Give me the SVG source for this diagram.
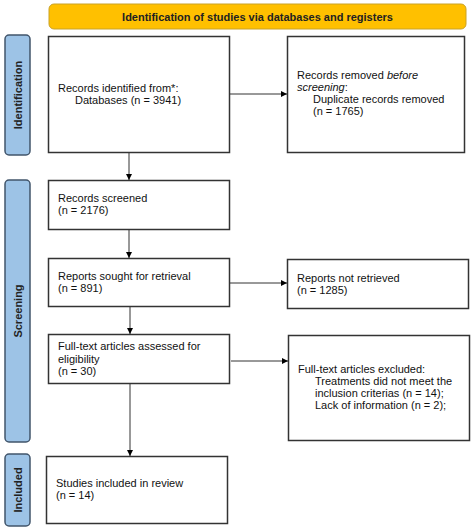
<svg xmlns="http://www.w3.org/2000/svg" width="474" height="530" viewBox="0 0 474 530">
<defs>
<marker id="ah" viewBox="0 0 10 10" refX="10" refY="5" markerWidth="6" markerHeight="6" markerUnits="userSpaceOnUse" orient="auto">
<path d="M0,0 L10,5 L0,10 z" fill="#000"/>
</marker>
</defs>
<style>
.box{fill:#fff;stroke:#333;stroke-width:1.5}
.side{fill:#9DC3E6;stroke:#41556B;stroke-width:1.5}
.t{font-family:"Liberation Sans",Arial,sans-serif;font-size:11px;fill:#111}
.b{font-family:"Liberation Sans",Arial,sans-serif;font-size:11px;font-weight:bold;fill:#222}
.c{stroke:#333;stroke-width:1;fill:none;marker-end:url(#ah)}
</style>
<rect width="474" height="530" fill="#fff"/>
<g id="banner">
<rect x="49" y="4" width="417" height="25" rx="5" fill="#FFC000" stroke="#C9A227" stroke-width="1"/>
<text class="b" x="257.5" y="20.5" text-anchor="middle">Identification of studies via databases and registers</text>
</g>
<g id="lbl-identification">
<rect class="side" x="5" y="35" width="25" height="120" rx="4"/>
<text class="b" transform="translate(21.5,95) rotate(-90)" text-anchor="middle">Identification</text>
</g>
<g id="lbl-screening">
<rect class="side" x="5" y="180" width="25" height="262" rx="4"/>
<text class="b" transform="translate(21.5,311) rotate(-90)" text-anchor="middle">Screening</text>
</g>
<g id="lbl-included">
<rect class="side" x="5" y="454" width="25" height="72" rx="4"/>
<text class="b" transform="translate(22,490) rotate(-90)" text-anchor="middle">Included</text>
</g>
<g id="n-identified">
<rect class="box" x="48.5" y="36.5" width="181" height="116"/>
<text class="t" x="58" y="92">Records identified from*:</text>
<text class="t" x="75" y="104">Databases (n = 3941)</text>
</g>
<g id="n-removed">
<rect class="box" x="287.5" y="36.5" width="177" height="116"/>
<text class="t" x="297" y="79">Records removed <tspan font-style="italic">before</tspan></text>
<text class="t" x="297" y="91"><tspan font-style="italic">screening</tspan>:</text>
<text class="t" x="313" y="103">Duplicate records removed</text>
<text class="t" x="313" y="115">(n = 1765)</text>
</g>
<g id="n-screened">
<rect class="box" x="48.5" y="180.5" width="181" height="49"/>
<text class="t" x="58" y="202">Records screened</text>
<text class="t" x="58" y="214">(n = 2176)</text>
</g>
<g id="n-sought">
<rect class="box" x="48.5" y="258.5" width="181" height="48"/>
<text class="t" x="58" y="280">Reports sought for retrieval</text>
<text class="t" x="58" y="292">(n = 891)</text>
</g>
<g id="n-notretrieved">
<rect class="box" x="287.5" y="259.5" width="181" height="49"/>
<text class="t" x="297" y="282">Reports not retrieved</text>
<text class="t" x="297" y="294">(n = 1285)</text>
</g>
<g id="n-assessed">
<rect class="box" x="48.5" y="334.5" width="181" height="49"/>
<text class="t" x="58" y="350">Full-text articles assessed for</text>
<text class="t" x="58" y="362.5">eligibility</text>
<text class="t" x="58" y="375">(n = 30)</text>
</g>
<g id="n-excluded">
<rect class="box" x="288.5" y="335.5" width="181" height="105"/>
<text class="t" x="298" y="373">Full-text articles excluded:</text>
<text class="t" x="315" y="385">Treatments did not meet the</text>
<text class="t" x="315" y="397">inclusion criterias (n = 14);</text>
<text class="t" x="315" y="409">Lack of information (n = 2);</text>
</g>
<g id="n-included">
<rect class="box" x="46.5" y="456.5" width="181" height="67"/>
<text class="t" x="56" y="487">Studies included in review</text>
<text class="t" x="56" y="499">(n = 14)</text>
</g>
<g id="connectors">
<line class="c" x1="129" y1="153" x2="129" y2="180"/>
<line class="c" x1="230" y1="94" x2="287" y2="94"/>
<line class="c" x1="129" y1="230" x2="129" y2="258"/>
<line class="c" x1="230" y1="283" x2="287" y2="283"/>
<line class="c" x1="130" y1="307" x2="130" y2="334"/>
<line class="c" x1="231" y1="361" x2="288" y2="361"/>
<line class="c" x1="130" y1="384" x2="130" y2="456"/>
</g>
</svg>
